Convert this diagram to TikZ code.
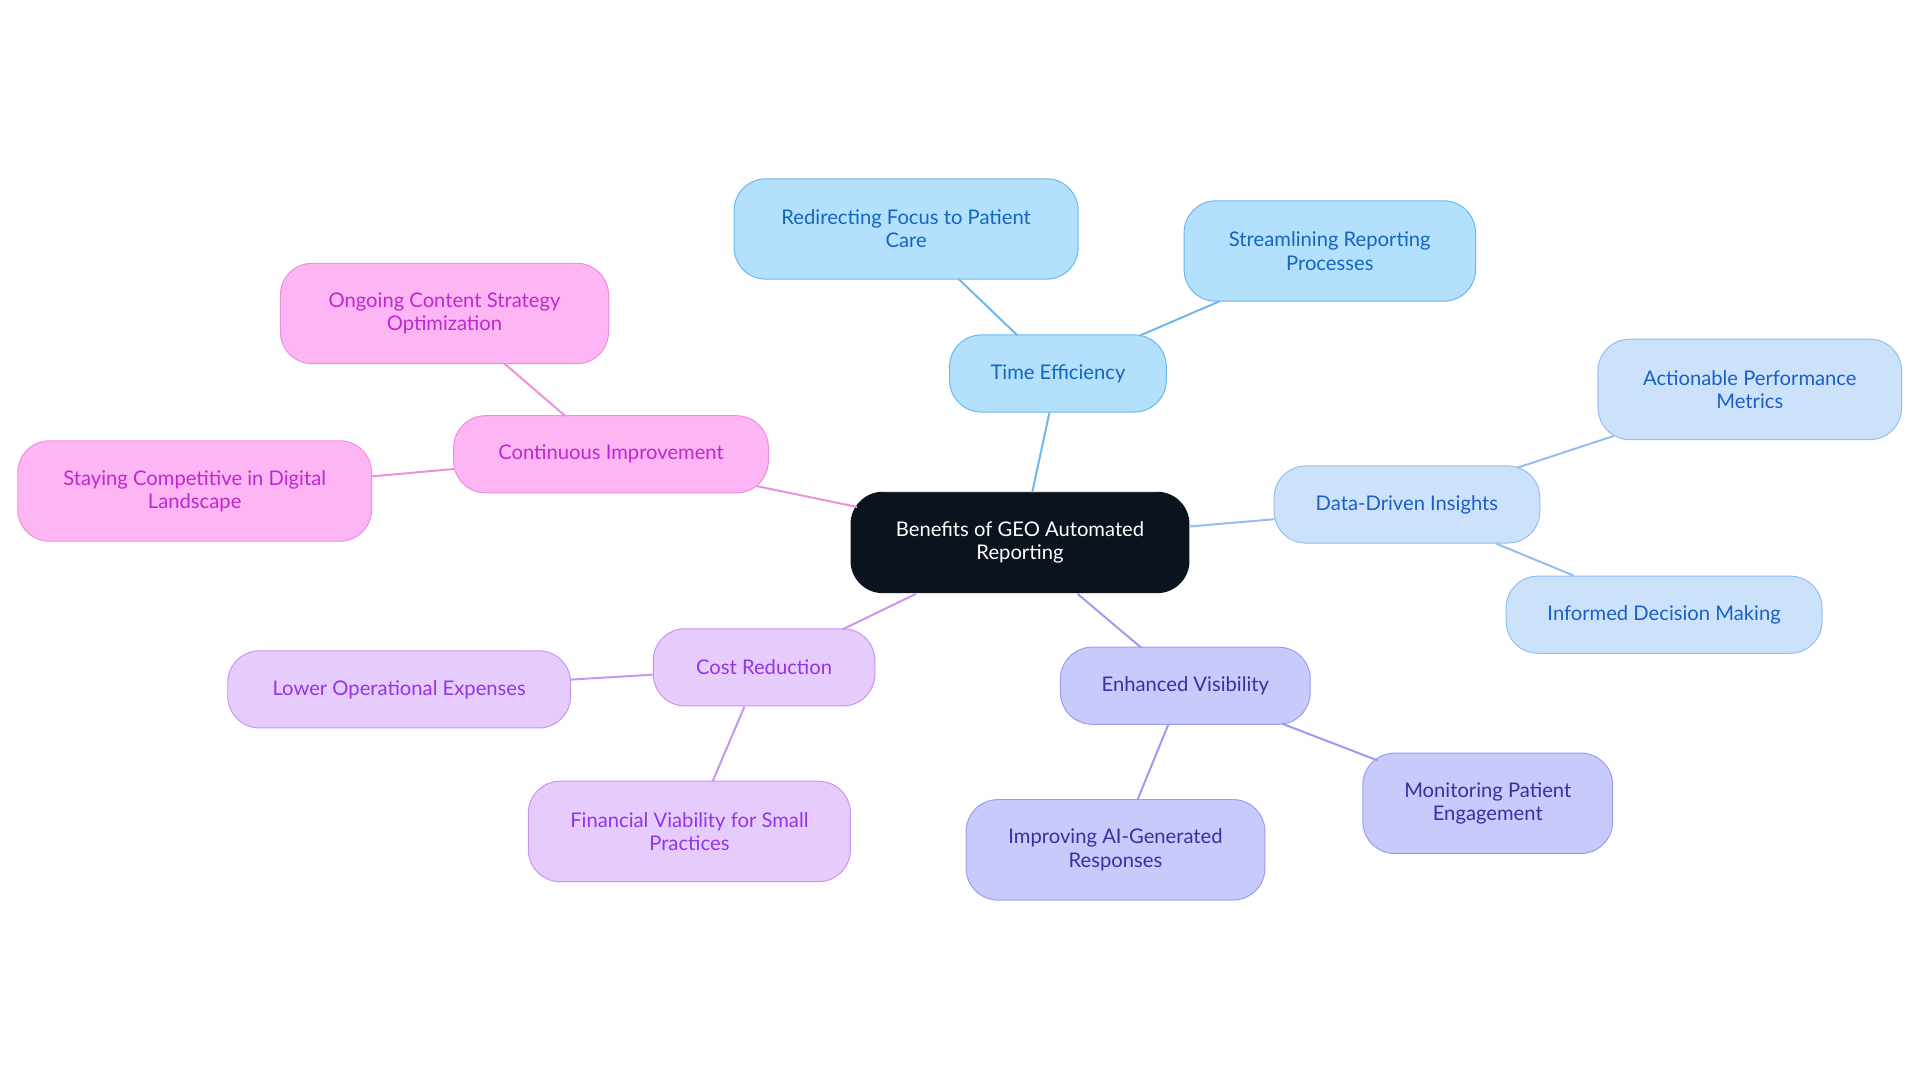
\documentclass[tikz,border=0pt]{standalone}
\usepackage{fontspec}
\setmainfont{Lato}
\begin{document}
\begin{tikzpicture}[x=1pt,y=-1pt,
 box/.style={draw,line width=0.8pt,rounded corners=26pt,align=center,font=\fontsize{16.5}{19}\selectfont,inner sep=0pt},
 te/.style={box,fill=tfill,draw=tdraw,text=ttext},
 dd/.style={box,fill=dfill,draw=ddraw,text=dtext},
 ev/.style={box,fill=efill,draw=edraw,text=etext},
 cr/.style={box,fill=cfill,draw=cdraw,text=ctext},
 ci/.style={box,fill=pfill,draw=pdraw,text=ptext},
 ln/.style={line width=1.6pt}]
\definecolor{tfill}{HTML}{B3E0FD}\definecolor{tdraw}{HTML}{6CB8EE}\definecolor{ttext}{HTML}{1565C0}
\definecolor{dfill}{HTML}{CCE2FB}\definecolor{ddraw}{HTML}{93BDEF}\definecolor{dtext}{HTML}{1A5FC8}
\definecolor{efill}{HTML}{C8CAFC}\definecolor{edraw}{HTML}{9A9CF2}\definecolor{etext}{HTML}{3730A3}
\definecolor{cfill}{HTML}{E6CCFD}\definecolor{cdraw}{HTML}{C994F0}\definecolor{ctext}{HTML}{9333EA}
\definecolor{pfill}{HTML}{FDB5F3}\definecolor{pdraw}{HTML}{EE8EDE}\definecolor{ptext}{HTML}{C026D3}
\definecolor{rootc}{HTML}{0B131E}
\useasboundingbox[fill=white] (0,0) rectangle (1568,884);
% nodes
\node[te,minimum width=177,minimum height=63] (te) at (864,305) {Time Efficiency};
\node[te,minimum width=281,minimum height=82] (rf) at (740,187) {Redirecting Focus to Patient\\Care};
\node[te,minimum width=238,minimum height=82] (sr) at (1086,205) {Streamlining Reporting\\Processes};
\node[dd,minimum width=217,minimum height=63] (dd) at (1149,412) {Data-Driven Insights};
\node[dd,minimum width=248,minimum height=82] (ap) at (1429,318) {Actionable Performance\\Metrics};
\node[dd,minimum width=258,minimum height=63] (id) at (1359,502) {Informed Decision Making};
\node[ev,minimum width=204,minimum height=63] (ev) at (968,560) {Enhanced Visibility};
\node[ev,minimum width=244,minimum height=82] (ia) at (911,694) {Improving AI-Generated\\Responses};
\node[ev,minimum width=204,minimum height=82] (mp) at (1215,656) {Monitoring Patient\\Engagement};
\node[cr,minimum width=181,minimum height=63] (cr) at (624,545) {Cost Reduction};
\node[cr,minimum width=280,minimum height=63] (lo) at (326,563) {Lower Operational Expenses};
\node[cr,minimum width=263,minimum height=82] (fv) at (563,679) {Financial Viability for Small\\Practices};
\node[ci,minimum width=257,minimum height=63] (ci) at (499,371) {Continuous Improvement};
\node[ci,minimum width=268,minimum height=82] (oc) at (363,256) {Ongoing Content Strategy\\Optimization};
\node[ci,minimum width=289,minimum height=82] (sc) at (159,401) {Staying Competitive in Digital\\Landscape};
\node[box,fill=rootc,draw=rootc,text=white,minimum width=276,minimum height=82] (root) at (833,443) {Benefits of GEO Automated\\Reporting};
% edges
\begin{scope}[on background layer/.style={}]
\end{scope}
\begin{pgfonlayer}{main}\end{pgfonlayer}
\draw[ln,tdraw] (843,402) -- (857,337);
\draw[ln,tdraw] (831,274) -- (783,228);
\draw[ln,tdraw] (931,274) -- (996,246);
\draw[ln,ddraw] (971,430) -- (1041,424);
\draw[ln,ddraw] (1239,382) -- (1318,356);
\draw[ln,ddraw] (1222,444) -- (1285,470);
\draw[ln,edraw] (880,485) -- (932,529);
\draw[ln,edraw] (954,592) -- (929,653);
\draw[ln,edraw] (1047,591) -- (1125,621);
\draw[ln,cdraw] (748,485) -- (688,514);
\draw[ln,cdraw] (533,551) -- (466,555);
\draw[ln,cdraw] (608,577) -- (582,638);
\draw[ln,pdraw] (700,414) -- (618,397);
\draw[ln,pdraw] (462,340) -- (412,297);
\draw[ln,pdraw] (371,383) -- (304,389);
\end{tikzpicture}
\end{document}
